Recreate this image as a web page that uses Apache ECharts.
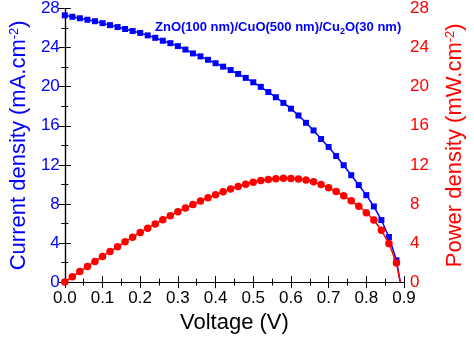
<!DOCTYPE html>
<html>
<head>
<meta charset="utf-8">
<script src="https://cdn.jsdelivr.net/npm/echarts@6/dist/echarts.min.js"></script>
<style>
html,body{margin:0;padding:0;background:#fff;}
#c{width:474px;height:339px;}
</style>
</head>
<body>
<div id="c"></div>
<script>
// Voltage (V)
var voltage = [0,0.02,0.04,0.06,0.08,0.10,0.12,0.14,0.16,0.18,0.20,0.22,0.24,0.26,0.28,0.30,0.32,0.34,0.36,0.38,0.40,0.42,0.44,0.46,0.48,0.50,0.52,0.54,0.56,0.58,0.60,0.62,0.64,0.66,0.68,0.70,0.72,0.74,0.76,0.78,0.80,0.82,0.84,0.86,0.88,0.89];
// Current density (mA.cm^-2)
var currentDensity = [27.3,27.15,27.0,26.85,26.7,26.5,26.3,26.1,25.9,25.7,25.5,25.25,25.0,24.7,24.45,24.15,23.8,23.4,23.1,22.75,22.4,22.05,21.7,21.3,20.9,20.45,19.98,19.45,18.92,18.34,17.75,17.05,16.3,15.52,14.64,13.83,12.9,11.96,10.94,9.93,8.9,7.74,6.35,4.62,2.23,0];
// Power density (mW.cm^-2)
var powerDensity = [0,0.55,1.08,1.6,2.12,2.63,3.14,3.63,4.12,4.6,5.08,5.52,5.95,6.38,6.8,7.2,7.58,7.94,8.3,8.63,8.95,9.25,9.53,9.79,10.02,10.23,10.4,10.51,10.58,10.62,10.61,10.55,10.45,10.27,9.98,9.66,9.27,8.84,8.32,7.76,7.1,6.36,5.3,3.95,1.96,0];
// Axis ticks
var xTicks = [0,0.1,0.2,0.3,0.4,0.5,0.6,0.7,0.8,0.9];
var yTicks = [0,4,8,12,16,20,24,28];

var blue = '#0000ff', red = '#ff0000';
var FONT = 'Liberation Sans, Arial, sans-serif';

function pairs(ys){
  return voltage.map(function(v,i){
    var item = {value:[v, ys[i]]};
    if(i === voltage.length-1) item.symbol = 'none';
    return item;
  });
}

var chart = echarts.init(document.getElementById('c'), null, {renderer:'canvas'});
var baseAxisLine = {show:true, lineStyle:{color:'#000', width:1.2}};
chart.setOption({
  animation:false,
  backgroundColor:'#fff',
  title:{
    left:150, top:14,
    text:'{b|ZnO(100 nm)/CuO(500 nm)/Cu}{s|2}{b|O(30 nm)}',
    textStyle:{
      rich:{
        b:{fontFamily:FONT, fontWeight:'bold', fontSize:13, color:blue},
        s:{fontFamily:FONT, fontWeight:'bold', fontSize:9, color:blue, verticalAlign:'bottom', padding:[8,0,0,0]}
      }
    }
  },
  grid:{left:55, right:57, top:7, bottom:47, containLabel:false},
  xAxis:[{
    type:'value', min:xTicks[0], max:xTicks[xTicks.length-1], interval:0.1,
    position:'bottom',
    name:'Voltage (V)', nameLocation:'middle', nameGap:26,
    nameTextStyle:{fontFamily:FONT, fontSize:22, color:'#000'},
    axisLine:baseAxisLine,
    axisTick:{show:true, inside:true, length:6, lineStyle:{color:'#000'}},
    minorTick:{show:true, splitNumber:2, length:3.5, lineStyle:{color:'#000'}},
    axisLabel:{fontFamily:FONT, fontSize:17, color:'#000', margin:8, formatter:function(v){return v.toFixed(1);}},
    splitLine:{show:false}
  },{
    type:'value', min:xTicks[0], max:xTicks[xTicks.length-1], interval:0.1,
    position:'top',
    axisLine:baseAxisLine,
    axisTick:{show:true, inside:true, length:6, lineStyle:{color:'#000'}},
    minorTick:{show:true, splitNumber:2, length:3.5, lineStyle:{color:'#000'}},
    axisLabel:{show:false},
    splitLine:{show:false}
  }],
  yAxis:[{
    type:'value', min:yTicks[0], max:yTicks[yTicks.length-1], interval:4,
    position:'left',
    name:'{a|Current density (mA.cm}{s|-2}{a|)}', nameLocation:'middle', nameGap:29,
    nameTextStyle:{
      rich:{
        a:{fontFamily:FONT, fontSize:22, color:blue},
        s:{fontFamily:FONT, fontSize:13, color:blue, verticalAlign:'top', padding:[0,0,8,0]}
      }
    },
    axisLine:baseAxisLine,
    axisTick:{show:true, inside:true, length:6, lineStyle:{color:'#000'}},
    minorTick:{show:true, splitNumber:2, length:3.5, lineStyle:{color:'#000'}},
    axisLabel:{fontFamily:FONT, fontSize:17, color:blue, margin:5},
    splitLine:{show:false}
  },{
    type:'value', min:yTicks[0], max:yTicks[yTicks.length-1], interval:4,
    position:'right',
    name:'{a|Power density (mW.cm}{s|-2}{a|)}', nameLocation:'middle', nameGap:40,
    nameTextStyle:{
      rich:{
        a:{fontFamily:FONT, fontSize:22, color:red},
        s:{fontFamily:FONT, fontSize:13, color:red, verticalAlign:'top', padding:[0,0,8,0]}
      }
    },
    axisLine:baseAxisLine,
    axisTick:{show:true, inside:true, length:6, lineStyle:{color:'#000'}},
    minorTick:{show:true, splitNumber:2, length:3.5, lineStyle:{color:'#000'}},
    axisLabel:{fontFamily:FONT, fontSize:17, color:red, margin:6},
    splitLine:{show:false}
  }],
  series:[{
    name:'J', type:'line', xAxisIndex:0, yAxisIndex:0,
    data:pairs(currentDensity),
    symbol:'rect', symbolSize:6,
    itemStyle:{color:blue},
    lineStyle:{color:blue, width:1.5},
    z:3
  },{
    name:'P', type:'line', xAxisIndex:0, yAxisIndex:1,
    data:pairs(powerDensity),
    symbol:'circle', symbolSize:7.5,
    itemStyle:{color:red},
    lineStyle:{color:red, width:1.5},
    z:4
  }]
});
</script>
</body>
</html>
